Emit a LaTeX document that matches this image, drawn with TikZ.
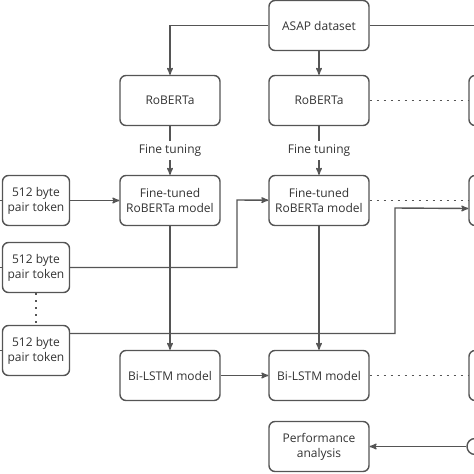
\documentclass[tikz,border=0pt]{standalone}
\usepackage{fontspec}
\setmainfont{Open Sans}
\usetikzlibrary{arrows,positioning}
\definecolor{linegray}{HTML}{555555}
\definecolor{textgray}{HTML}{333333}

\begin{document}
\begin{tikzpicture}[->,>=stealth',x=1pt,y=1pt,line width=1.4pt,draw=linegray,
                    box/.style = {rectangle,rounded corners=6pt,draw=linegray,fill=white,
                                  minimum width=100pt,minimum height=50pt,align=center,
                                  text=textgray,font=\fontsize{12}{15}\selectfont},
                    tok/.style = {box,minimum width=67pt,inner sep=2pt},
                    el/.style = {fill=white,text=textgray,font=\fontsize{12}{15}\selectfont},
                    dots/.style = {-,dash pattern=on 2pt off 5pt}]
  \useasboundingbox (0,0) rectangle (474,-474);
  \clip (0,0) rectangle (474,-474);

  \node[box] (asap)                                      at (319,-25.5) {ASAP dataset};
  \node[box] (rob_b)   [below of=asap,node distance=75pt]    {RoBERTa};
  \node[box] (rob_a)   [left of=rob_b,node distance=149pt]   {RoBERTa};
  \node[box] (rob_c)   [right of=rob_b,node distance=200pt]  {};
  \node[box] (ft_b)    [below of=rob_b,node distance=100pt]  {Fine-tuned\\RoBERTa model};
  \node[box] (ft_a)    [below of=rob_a,node distance=100pt]  {Fine-tuned\\RoBERTa model};
  \node[box] (ft_c)    [below of=rob_c,node distance=100pt]  {};
  \node[box] (bil_b)   [below of=ft_b,node distance=175pt]   {Bi-LSTM model};
  \node[box] (bil_a)   [below of=ft_a,node distance=175pt]   {Bi-LSTM model};
  \node[box] (bil_c)   [below of=ft_c,node distance=175pt]   {};
  \node[box] (perf)    [below of=bil_b,node distance=71pt]   {Performance\\analysis};
  \node[circle,draw=linegray,fill=white,minimum size=16pt,inner sep=0pt] (perf_in)
                       [right of=perf,node distance=156pt]   {};
  \node[tok] (tok_a)   [left of=ft_a,node distance=134pt]    {512 byte\\pair token};
  \node[tok] (tok_b)   [below of=tok_a,node distance=67pt]   {512 byte\\pair token};
  \node[tok] (tok_c)   [below of=tok_b,node distance=83pt]   {512 byte\\pair token};

  \coordinate[left of=tok_a,node distance=50pt] (in_a);
  \coordinate[left of=tok_b,node distance=50pt] (in_b);
  \coordinate[left of=tok_c,node distance=50pt] (in_c);
  \coordinate (jog_b) at (237,-200);
  \coordinate (jog_c) at (395,-208);

  \draw (asap) -| (rob_a);
  \draw (asap) -- (rob_b);
  \draw (asap) -| (rob_c);
  \path (rob_a) edge node[el] {Fine tuning} (ft_a)
        (rob_b) edge node[el] {Fine tuning} (ft_b)
        (ft_a)  edge (bil_a)
        (ft_b)  edge (bil_b)
        (bil_a) edge (bil_b)
        (tok_a) edge (ft_a)
        (perf_in) edge (perf);
  \draw (tok_b) -| (jog_b) -- (ft_b);
  \draw ([yshift=17pt]tok_c.east) -| (jog_c) -- ([yshift=-8pt]ft_c.west);

  \draw[-] (in_a) -- (tok_a);
  \draw[-] (in_b) -- (tok_b);
  \draw[-] (in_c) -- (tok_c);

  \draw[dots] (rob_b) -- (rob_c);
  \draw[dots] (ft_b) -- (ft_c);
  \draw[dots] (bil_b) -- (bil_c);
  \draw[dots] (tok_b) -- (tok_c);
\end{tikzpicture}
\end{document}
